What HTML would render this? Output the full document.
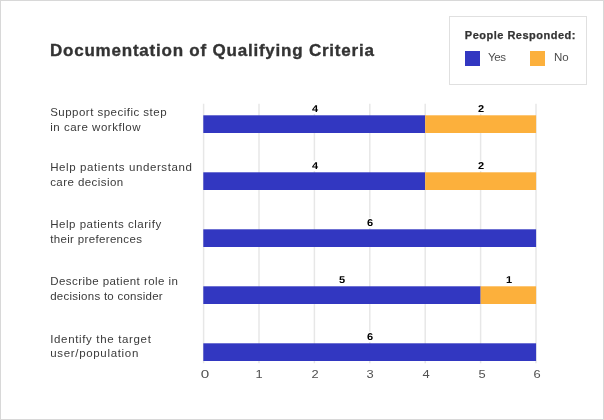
<!DOCTYPE html>
<html lang="en">
<head>
<meta charset="utf-8">
<title>Documentation of Qualifying Criteria</title>
<style>
html,body{margin:0;padding:0;background:#fff;}
body{width:604px;height:420px;position:relative;overflow:hidden;font-family:"Liberation Sans",Arial,sans-serif;}
#frame{position:absolute;left:0;top:0;width:602px;height:418px;border:1px solid #d8d8d8;background:#fff;}
.t{position:absolute;white-space:nowrap;line-height:1;margin:0;}
#title{left:50px;top:41.7px;font-size:17px;font-weight:bold;color:#333;letter-spacing:0.78px;-webkit-text-stroke:0.35px #333;}
#legend{position:absolute;left:449px;top:16px;width:136px;height:67px;border:1px solid #e0e0e0;background:#fff;}
#ltitle{left:464.8px;top:30px;font-size:11px;letter-spacing:0.5px;-webkit-text-stroke:0.25px #333;font-weight:bold;color:#333;}
.sw{position:absolute;width:15px;height:15px;top:50.5px;}
.blue{background:#3237c1;}
.orange{background:#fcb03c;}
.lg{font-size:11.5px;color:#4d4d4d;top:52px;}
.lab{font-size:11.5px;color:#3a3a3a;left:50.2px;}
.grid{position:absolute;top:104px;height:259px;width:1px;background:#e2e2e2;}
.bar{position:absolute;height:18px;}
.val{font-size:9.5px;font-weight:bold;color:#000;transform:translate(-50%,1px) scale(1.16,1.04) rotate(0.03deg);transform-origin:50% 85%;background:#fff;padding:0 1px;}
.ax{font-size:11.5px;color:#505050;transform:translateX(-50%) scaleX(1.12);top:369px;}
</style>
</head>
<body>
<div id="frame"></div>
<div class="t" id="title">Documentation of Qualifying Criteria</div>

<div id="legend"></div>
<div class="t" id="ltitle">People Responded:</div>
<div class="sw blue" style="left:465px"></div>
<div class="t lg" style="left:488px;letter-spacing:-0.4px">Yes</div>
<div class="sw orange" style="left:530px"></div>
<div class="t lg" style="left:554px">No</div>


<svg id="chart" width="604" height="420" viewBox="0 0 604 420" style="position:absolute;left:0;top:0">
<line x1="203.60" y1="103.7" x2="203.60" y2="363.2" stroke="#e7e7e7" stroke-width="1.5"/>
<line x1="259.00" y1="103.7" x2="259.00" y2="363.2" stroke="#e7e7e7" stroke-width="1.5"/>
<line x1="314.40" y1="103.7" x2="314.40" y2="363.2" stroke="#e7e7e7" stroke-width="1.5"/>
<line x1="369.80" y1="103.7" x2="369.80" y2="363.2" stroke="#e7e7e7" stroke-width="1.5"/>
<line x1="425.20" y1="103.7" x2="425.20" y2="363.2" stroke="#e7e7e7" stroke-width="1.5"/>
<line x1="480.60" y1="103.7" x2="480.60" y2="363.2" stroke="#e7e7e7" stroke-width="1.5"/>
<line x1="536.00" y1="103.7" x2="536.00" y2="363.2" stroke="#e7e7e7" stroke-width="1.5"/>
<rect x="203.30" y="115.30" width="221.87" height="17.7" fill="#3237c1"/>
<rect x="425.17" y="115.30" width="110.93" height="17.7" fill="#fcb03c"/>
<rect x="203.30" y="172.30" width="221.87" height="17.7" fill="#3237c1"/>
<rect x="425.17" y="172.30" width="110.93" height="17.7" fill="#fcb03c"/>
<rect x="203.30" y="229.30" width="332.80" height="17.7" fill="#3237c1"/>
<rect x="203.30" y="286.30" width="277.33" height="17.7" fill="#3237c1"/>
<rect x="480.63" y="286.30" width="55.47" height="17.7" fill="#fcb03c"/>
<rect x="203.30" y="343.30" width="332.80" height="17.7" fill="#3237c1"/>
</svg>
<div class="t lab" id="l1a" style="top:106.9px;letter-spacing:0.480px">Support specific step</div>
<div class="t lab" id="l1b" style="top:121.8px;letter-spacing:0.523px">in care workflow</div>
<div class="t lab" id="l2a" style="top:161.8px;letter-spacing:0.600px">Help patients understand</div>
<div class="t lab" id="l2b" style="top:177.0px;letter-spacing:0.437px">care decision</div>
<div class="t lab" id="l3a" style="top:218.8px;letter-spacing:0.530px">Help patients clarify</div>
<div class="t lab" id="l3b" style="top:233.9px;letter-spacing:0.340px">their preferences</div>
<div class="t lab" id="l4a" style="top:276.0px;letter-spacing:0.435px">Describe patient role in</div>
<div class="t lab" id="l4b" style="top:290.5px;letter-spacing:0.255px">decisions to consider</div>
<div class="t lab" id="l5a" style="top:333.5px;letter-spacing:0.654px">Identify the target</div>
<div class="t lab" id="l5b" style="top:348.1px;letter-spacing:0.677px">user/population</div>


<div class="t val" style="left:314.5px;top:103px">4</div>
<div class="t val" style="left:481px;top:103px">2</div>
<div class="t val" style="left:314.5px;top:160px">4</div>
<div class="t val" style="left:481px;top:160px">2</div>
<div class="t val" style="left:370px;top:217px">6</div>
<div class="t val" style="left:342px;top:274px">5</div>
<div class="t val" style="left:508.5px;top:274px">1</div>
<div class="t val" style="left:370px;top:331px">6</div>

<div class="t ax" style="left:204.7px;transform:translateX(-50%) scaleX(1.32)">0</div>
<div class="t ax" style="left:259px">1</div>
<div class="t ax" style="left:314.9px">2</div>
<div class="t ax" style="left:370.4px">3</div>
<div class="t ax" style="left:425.8px">4</div>
<div class="t ax" style="left:481.5px">5</div>
<div class="t ax" style="left:536.9px">6</div>
</body>
</html>
